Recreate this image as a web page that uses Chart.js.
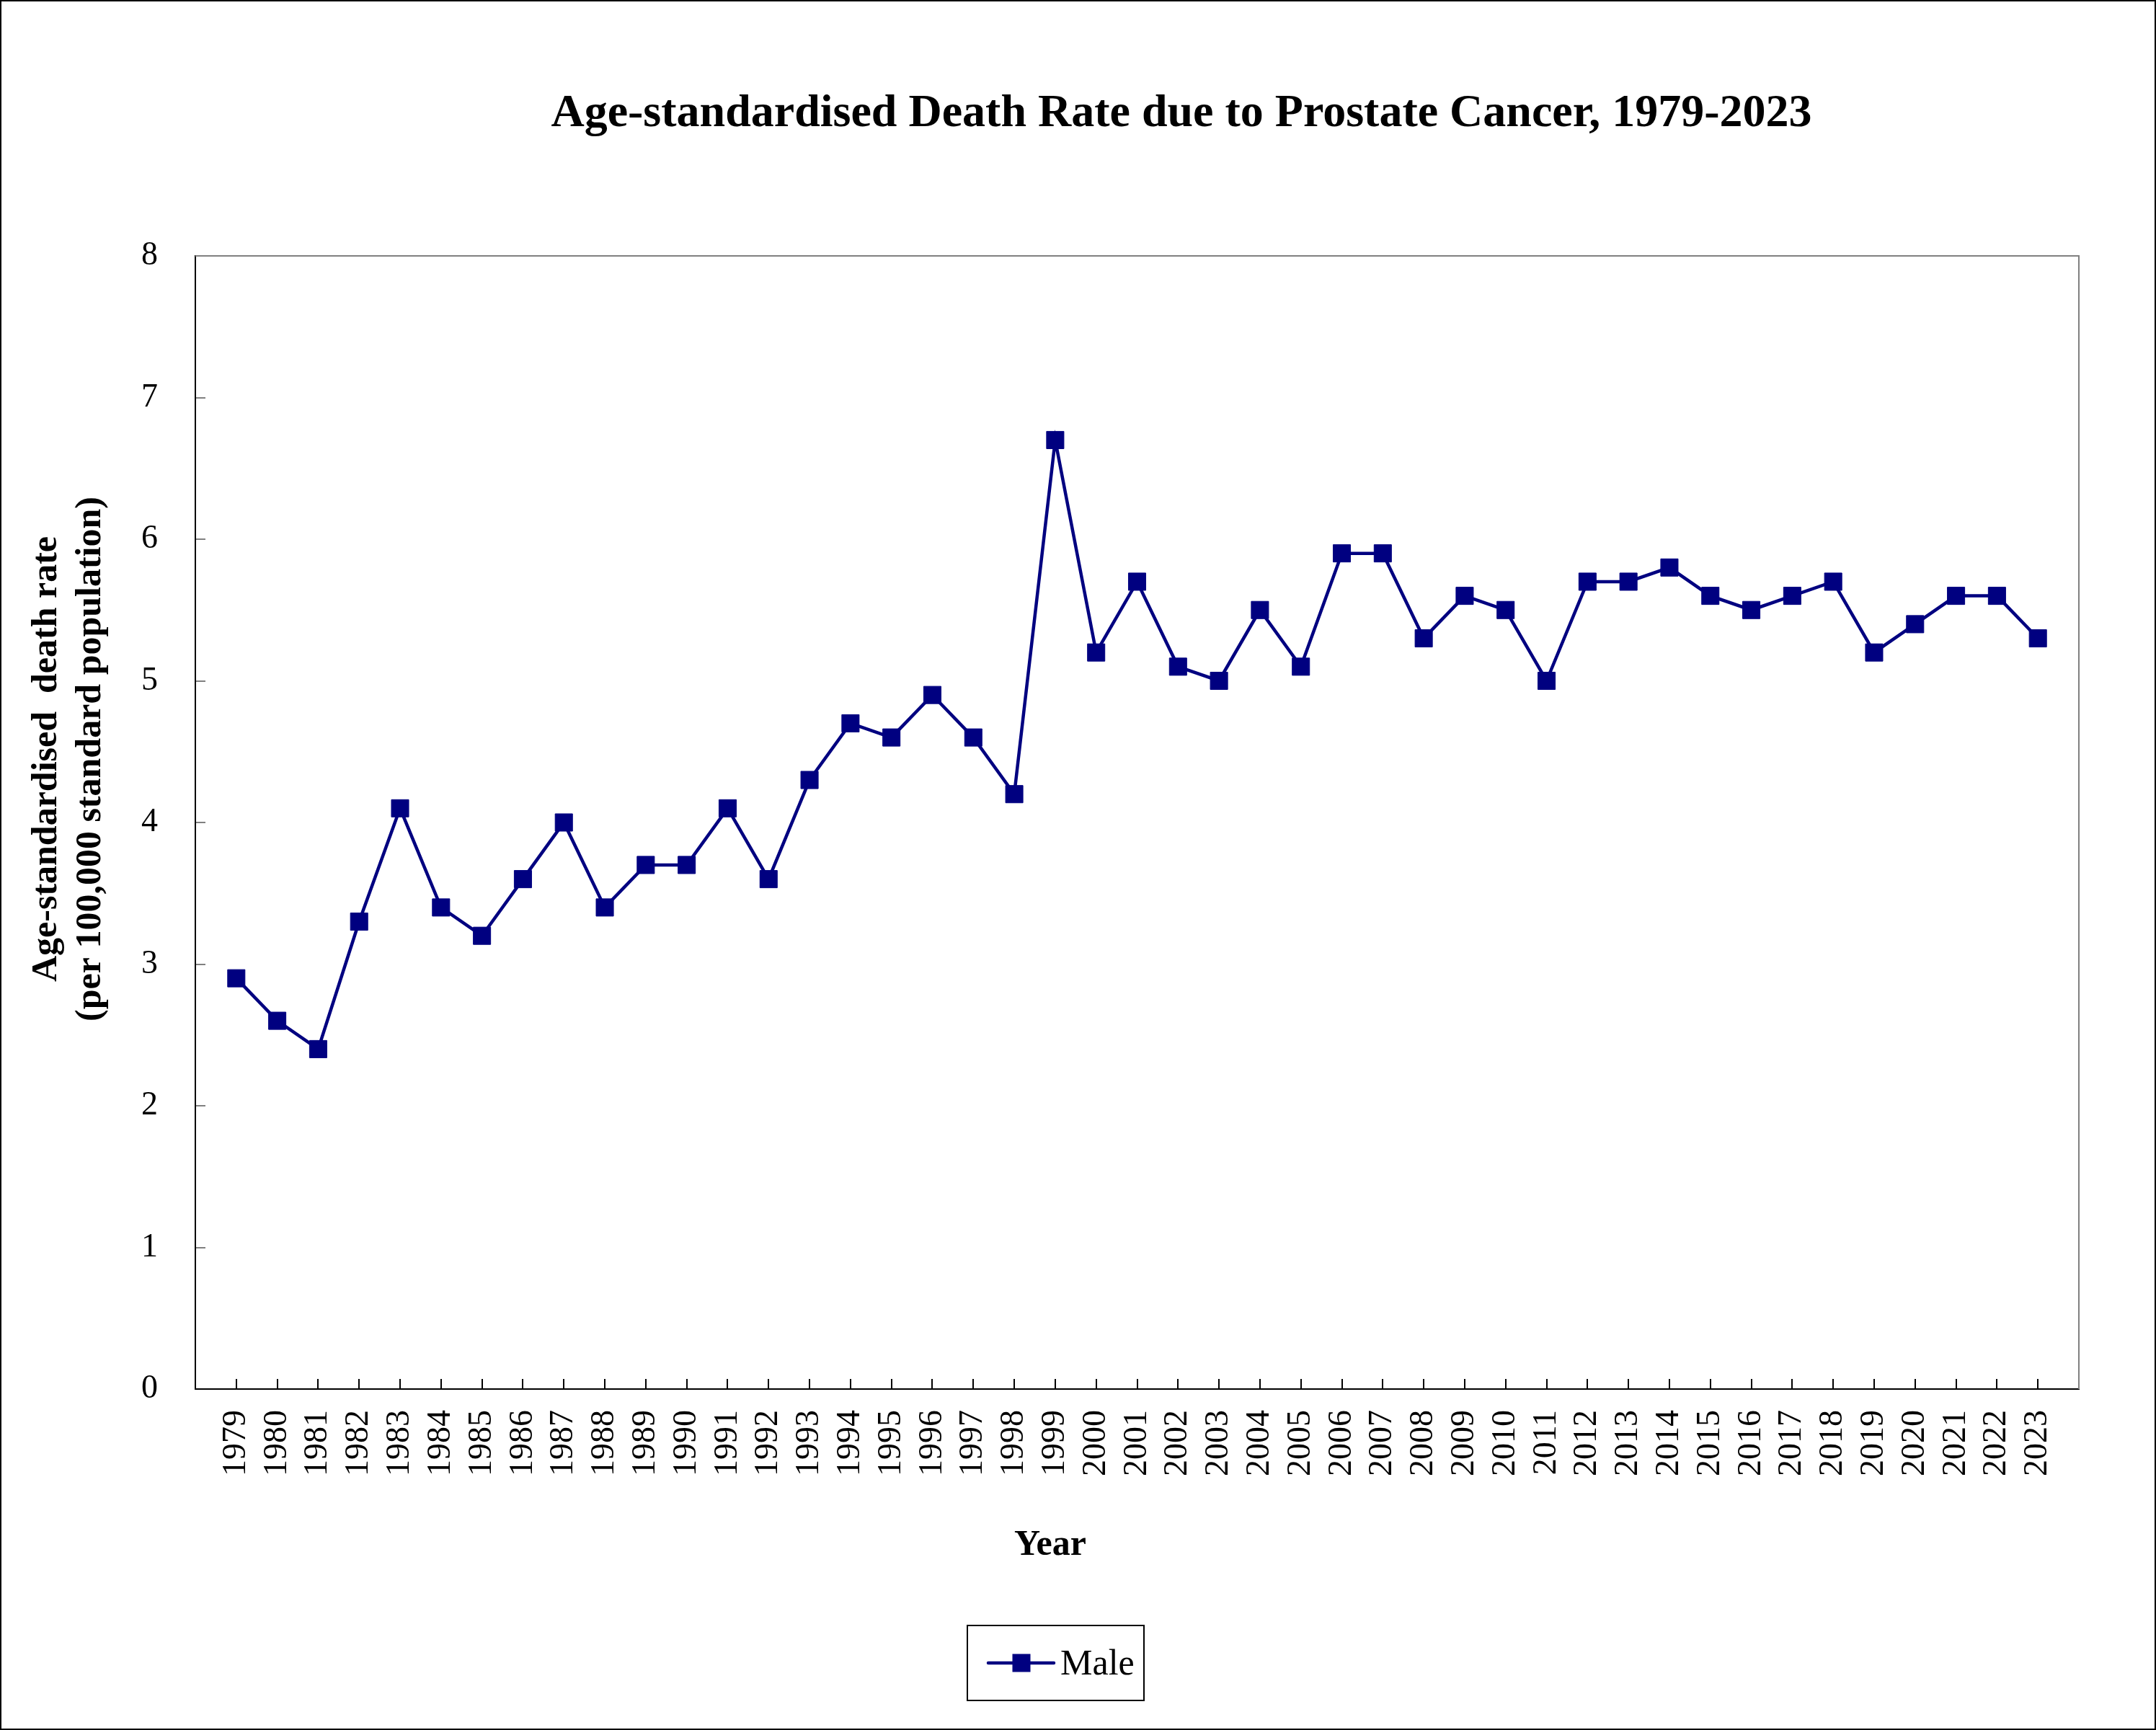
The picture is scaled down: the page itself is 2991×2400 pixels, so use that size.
<!DOCTYPE html>
<html>
<head>
<meta charset="utf-8">
<script src="https://cdn.jsdelivr.net/npm/chart.js@4.4.1/dist/chart.umd.min.js"></script>
<style>
html,body{margin:0;padding:0;background:#fff;}
#wrap{width:2991px;height:2400px;position:relative;}
canvas{display:block;}
</style>
</head>
<body>
<div id="wrap"><canvas id="c" width="2991" height="2400"></canvas></div>
<script>
const years = [1979,1980,1981,1982,1983,1984,1985,1986,1987,1988,1989,1990,1991,1992,1993,1994,1995,1996,1997,1998,1999,2000,2001,2002,2003,2004,2005,2006,2007,2008,2009,2010,2011,2012,2013,2014,2015,2016,2017,2018,2019,2020,2021,2022,2023];
const maleRates = [2.9,2.6,2.4,3.3,4.1,3.4,3.2,3.6,4.0,3.4,3.7,3.7,4.1,3.6,4.3,4.7,4.6,4.9,4.6,4.2,6.7,5.2,5.7,5.1,5.0,5.5,5.1,5.9,5.9,5.3,5.6,5.5,5.0,5.7,5.7,5.8,5.6,5.5,5.6,5.7,5.2,5.4,5.6,5.6,5.3];
const yTickValues = [0,1,2,3,4,5,6,7,8];
const xRange = [1978, 2024];
const chartTitle = 'Age-standardised Death Rate due to Prostate Cancer, 1979-2023';
const yTitleLines = ['Age-standardised  death rate', '(per 100,000 standard population)'];
const xTitle = 'Year';
const seriesName = 'Male';

const SERIF = "'Liberation Serif', 'Times New Roman', serif";
const NAVY = '#000080';

const decor = {
  id: 'decor',
  beforeDraw(chart) {
    const ctx = chart.ctx;
    ctx.save();
    ctx.fillStyle = '#ffffff';
    ctx.fillRect(0, 0, chart.width, chart.height);
    ctx.restore();
  },
  beforeDatasetsDraw(chart) {
    const ctx = chart.ctx, a = chart.chartArea;
    ctx.save();
    ctx.strokeStyle = '#808080';
    ctx.lineWidth = 2;
    ctx.beginPath();
    ctx.moveTo(a.left, a.top);
    ctx.lineTo(a.right, a.top);
    ctx.lineTo(a.right, a.bottom);
    ctx.stroke();
    ctx.restore();
  },
  afterDraw(chart) {
    const ctx = chart.ctx;
    ctx.save();
    ctx.fillStyle = '#000';
    // title
    ctx.font = 'bold 64px ' + SERIF;
    ctx.textAlign = 'center';
    ctx.textBaseline = 'alphabetic';
    ctx.fillText(chartTitle, 1639, 175);
    // x title
    ctx.font = 'bold 50px ' + SERIF;
    ctx.fillText(xTitle, 1457, 2157);
    // y title
    const ys = [78, 139];
    yTitleLines.forEach((t, i) => {
      ctx.save();
      ctx.translate(ys[i], 1053);
      ctx.rotate(-Math.PI / 2);
      ctx.fillText(t, 0, 0);
      ctx.restore();
    });
    // legend
    ctx.strokeStyle = '#000';
    ctx.lineWidth = 2;
    ctx.strokeRect(1342, 2255, 245, 104);
    ctx.strokeStyle = NAVY;
    ctx.lineWidth = 4.5;
    ctx.lineCap = 'round';
    ctx.beginPath();
    ctx.moveTo(1371, 2307);
    ctx.lineTo(1462, 2307);
    ctx.stroke();
    ctx.fillStyle = NAVY;
    ctx.fillRect(1417 - 12.5, 2307 - 12.5, 25, 25);
    ctx.fillStyle = '#000';
    ctx.font = '50px ' + SERIF;
    ctx.textAlign = 'left';
    ctx.fillText(seriesName, 1471, 2323);
    // outer frame
    ctx.strokeStyle = '#000';
    ctx.lineWidth = 2;
    ctx.strokeRect(1, 1, chart.width - 2, chart.height - 2);
    ctx.restore();
  }
};

new Chart(document.getElementById('c'), {
  type: 'line',
  data: {
    datasets: [{
      label: seriesName,
      data: years.map((yr, i) => ({x: yr, y: maleRates[i]})),
      borderColor: NAVY,
      backgroundColor: NAVY,
      borderWidth: 4.5,
      tension: 0,
      pointStyle: 'rect',
      pointRadius: 17,
      pointHoverRadius: 17,
      pointBackgroundColor: NAVY,
      pointBorderColor: NAVY,
      pointBorderWidth: 1
    }]
  },
  options: {
    responsive: false,
    devicePixelRatio: 1,
    animation: false,
    events: [],
    layout: { padding: { top: 355, right: 107, left: 0, bottom: 0 } },
    plugins: {
      legend: { display: false },
      title: { display: false },
      tooltip: { enabled: false }
    },
    scales: {
      x: {
        type: 'linear',
        min: xRange[0],
        max: xRange[1],
        afterBuildTicks: (s) => { s.ticks = [xRange[0], ...years, xRange[1]].map(v => ({value: v})); },
        afterFit: (s) => { s.height = 473; },
        ticks: {
          autoSkip: false,
          minRotation: 90,
          maxRotation: 90,
          padding: 43,
          color: '#000',
          font: { family: SERIF, size: 46 },
          callback: (v) => (years.includes(v) ? String(v) : '')
        },
        grid: { drawOnChartArea: false, drawTicks: true, tickLength: -14, color: '#000', lineWidth: 2 },
        border: { display: true, color: '#000', width: 2 }
      },
      y: {
        min: 0,
        max: 8,
        afterBuildTicks: (s) => { s.ticks = yTickValues.map(v => ({value: v})); },
        afterFit: (s) => { s.width = 271; },
        ticks: {
          padding: 66,
          color: '#000',
          font: { family: SERIF, size: 46 },
          callback: (v) => String(v)
        },
        grid: { drawOnChartArea: false, drawTicks: true, tickLength: -14, color: '#808080', lineWidth: 2 },
        border: { display: true, color: '#000', width: 2 }
      }
    }
  },
  plugins: [decor]
});
</script>
</body>
</html>
